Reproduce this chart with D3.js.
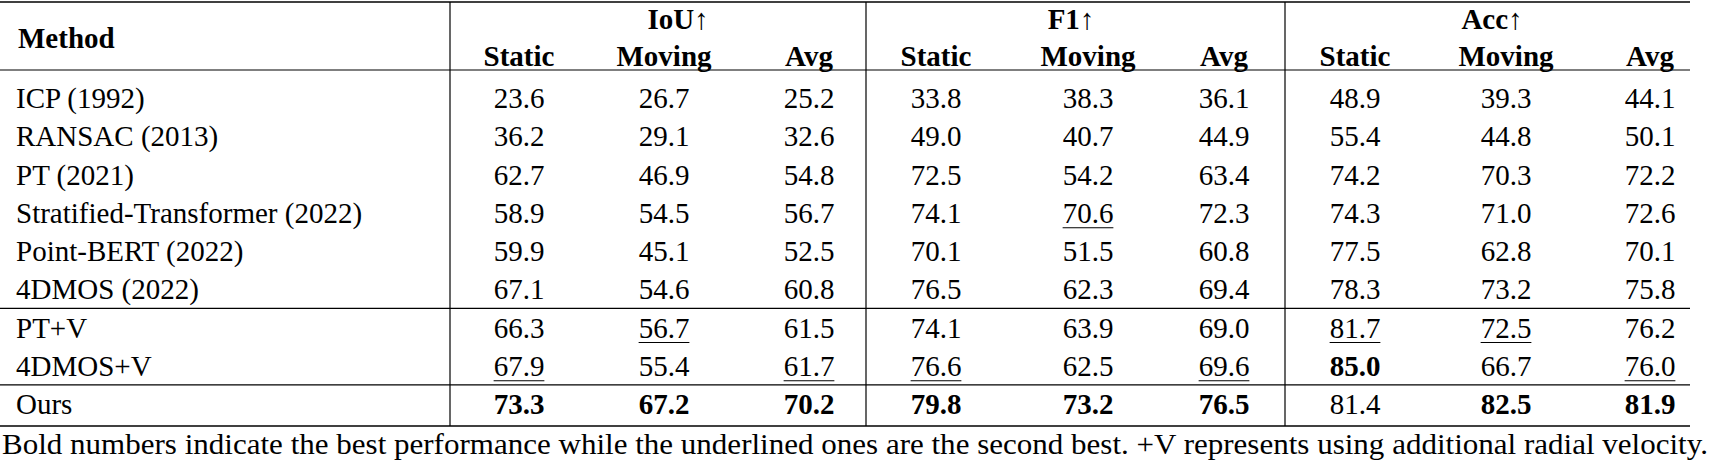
<!DOCTYPE html>
<html><head><meta charset="utf-8">
<script src="https://cdn.jsdelivr.net/npm/d3@7"></script>
<style>body{margin:0;background:#fff}text{font-family:"Liberation Serif","Times New Roman",serif;fill:#000}</style>
</head><body><svg id="t" width="1714" height="461"></svg>
<script>
const methods = ["ICP (1992)","RANSAC (2013)","PT (2021)","Stratified-Transformer (2022)","Point-BERT (2022)","4DMOS (2022)","PT+V","4DMOS+V","Ours"];
const groups = ["IoU↑","F1↑","Acc↑"];
const subCols = ["Static","Moving","Avg"];
const values = [
  ["23.6","26.7","25.2","33.8","38.3","36.1","48.9","39.3","44.1"],
  ["36.2","29.1","32.6","49.0","40.7","44.9","55.4","44.8","50.1"],
  ["62.7","46.9","54.8","72.5","54.2","63.4","74.2","70.3","72.2"],
  ["58.9","54.5","56.7","74.1","70.6","72.3","74.3","71.0","72.6"],
  ["59.9","45.1","52.5","70.1","51.5","60.8","77.5","62.8","70.1"],
  ["67.1","54.6","60.8","76.5","62.3","69.4","78.3","73.2","75.8"],
  ["66.3","56.7","61.5","74.1","63.9","69.0","81.7","72.5","76.2"],
  ["67.9","55.4","61.7","76.6","62.5","69.6","85.0","66.7","76.0"],
  ["73.3","67.2","70.2","79.8","73.2","76.5","81.4","82.5","81.9"]
];
// "b" bold, "u" underlined, "" plain
const marks = [
  ["","","","","","","","",""],
  ["","","","","","","","",""],
  ["","","","","","","","",""],
  ["","","","","u","","","",""],
  ["","","","","","","","",""],
  ["","","","","","","","",""],
  ["","u","","","","","u","u",""],
  ["u","","u","u","","u","b","","u"],
  ["b","b","b","b","b","b","","b","b"]
];
const caption = "Bold numbers indicate the best performance while the underlined ones are the second best. +V represents using additional radial velocity.";

const svg = d3.select("#t");
const fs = 29;
const left = 0, right = 1690;

const y = d3.scalePoint().domain(d3.range(methods.length)).range([98, 404]);
const colKeys = d3.range(9);
const colX = d3.scaleOrdinal().domain(colKeys)
  .range([519, 664, 809, 936, 1088, 1224, 1355, 1506, 1650]);
const groupX = d3.scaleOrdinal().domain(groups).range([678, 1071, 1492]);
const dividers = [450, 866, 1285];

// rules
const rules = [
  {y: 2, w: 1.6}, {y: 70, w: 1.2},
  {y: (y(5)+y(6))/2, w: 1.2}, {y: (y(7)+y(8))/2, w: 1.2}, {y: 426, w: 1.6}
];
svg.selectAll("line.rule").data(rules).join("line").attr("class","rule")
  .attr("x1", left).attr("x2", right).attr("y1", d=>d.y).attr("y2", d=>d.y)
  .attr("stroke","#000").attr("stroke-width", d=>d.w);
svg.selectAll("line.div").data(dividers).join("line").attr("class","div")
  .attr("x1", d=>d).attr("x2", d=>d).attr("y1", 2).attr("y2", 426)
  .attr("stroke","#000").attr("stroke-width",1.2);

// header
svg.append("text").attr("x",18).attr("y",38).attr("dy","0.35em")
  .attr("font-weight","bold").attr("font-size",fs).text("Method");
svg.selectAll("text.grp").data(groups).join("text").attr("class","grp")
  .attr("x", d=>groupX(d)).attr("y",19).attr("dy","0.35em").attr("text-anchor","middle")
  .attr("font-weight","bold").attr("font-size",fs).text(d=>d);
svg.selectAll("text.sub").data(colKeys).join("text").attr("class","sub")
  .attr("x", d=>colX(d)).attr("y",56).attr("dy","0.35em").attr("text-anchor","middle")
  .attr("font-weight","bold").attr("font-size",fs).text(d=>subCols[d%3]);

// body
svg.selectAll("text.m").data(methods).join("text").attr("class","m")
  .attr("x",16).attr("y",(d,i)=>y(i)).attr("dy","0.35em").attr("font-size",fs).text(d=>d);

const cells = values.flatMap((r,i)=>r.map((v,j)=>({v, i, j, m: marks[i][j]})));
const ct = svg.selectAll("text.c").data(cells).join("text").attr("class","c")
  .attr("x", d=>colX(d.j)).attr("y", d=>y(d.i)).attr("dy","0.35em").attr("text-anchor","middle")
  .attr("font-size",fs).attr("font-weight", d=>d.m==="b"?"bold":"normal").text(d=>d.v);
ct.filter(d=>d.m==="u").each(function(d){
  const b = this.getBBox();
  svg.append("line").attr("x1",b.x).attr("x2",b.x+b.width)
    .attr("y1", y(d.i)+15).attr("y2", y(d.i)+15).attr("stroke","#000").attr("stroke-width",1.2);
});

svg.append("text").attr("x",2).attr("y",444).attr("dy","0.35em").attr("font-size",fs)
  .attr("textLength",1706).attr("lengthAdjust","spacingAndGlyphs").text(caption);
</script></body></html>
